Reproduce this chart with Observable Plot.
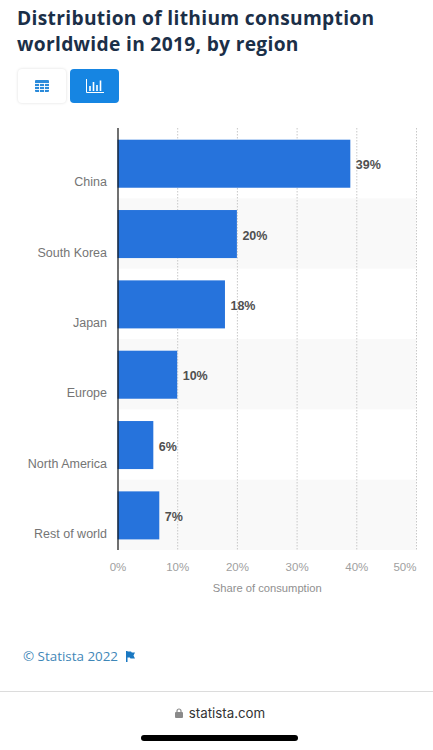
<!DOCTYPE html>
<html><head><meta charset="utf-8">
<script src="https://cdn.jsdelivr.net/npm/d3@7"></script>
<script src="https://cdn.jsdelivr.net/npm/@observablehq/plot@0.6"></script>
<style>
html,body{margin:0;padding:0;background:#fff;width:433px;height:750px;overflow:hidden}
#page{position:relative;width:433px;height:750px}
#page>*{position:absolute}
h1{margin:0;left:17px;top:5px;width:410px;font:700 19.2px/25.5px "Open Sans",sans-serif;color:#1b2f48;letter-spacing:.32px}
.btn{top:69px;height:34px;border-radius:4px;box-sizing:border-box;display:flex;align-items:center;justify-content:center}
#chart{left:0;top:120px}
#chart svg{display:block}
#credit{left:23px;top:646px;font:400 13.4px/20px "Open Sans",sans-serif;color:#3f87b8;display:flex;align-items:center;gap:8px}
#rule{left:0;top:691px;width:433px;height:1px;background:#dcdcdc}
#url{left:3.5px;width:433px;top:703px;text-align:center;font:400 13.3px/20px Inter,"Open Sans",sans-serif;color:#333;display:flex;justify-content:center;align-items:center;gap:6px}
#pill{left:141px;top:735px;width:157px;height:6px;border-radius:3px;background:#000}
</style></head><body>
<div id="page">
<h1>Distribution of lithium consumption worldwide in 2019, by region</h1>
<div class="btn" style="left:18px;width:48px;background:#fff;box-shadow:0 0 3px rgba(0,0,0,.14)">
<svg width="14" height="12" viewBox="0 0 14 12"><rect width="14" height="12" rx="1" fill="#2a8ada"/><path d="M0 3.500H14M0 6.500H14M0 9.500H14M4.500 3V12M9.500 3V12" stroke="#fff" stroke-width=".9"/></svg></div>
<div class="btn" style="left:70px;width:49px;background:#1685e2">
<svg width="18" height="14" viewBox="0 0 18 14" fill="none" stroke="#fff"><path d="M.5 0V13.500H18" stroke-width="1"/><path d="M4 12V7M7.500 12V3M11 12V6M14.500 12V1.500" stroke-width="1.600"/></svg></div>
<div id="chart"></div>
<div id="credit"><span>© Statista 2022</span><svg width="9" height="11" viewBox="0 0 9 11"><path d="M0 0H1.500V11H0ZM1.500 .5H5L5.800 1.500H9L7.500 4.500L9 7.500H4.500L3.800 6.500H1.500Z" fill="#1a78c2"/></svg></div>
<div id="rule"></div>
<div id="url"><svg width="8" height="10" viewBox="0 0 8 10"><path d="M2 4.500V3A2 2 0 0 1 6 3V4.500" fill="none" stroke="#8a8a8a" stroke-width="1.200"/><rect y="4" width="8" height="6" rx="1" fill="#8a8a8a"/></svg><span>statista.com</span></div>
<div id="pill"></div>
</div>
<script>
const regions = ["China", "South Korea", "Japan", "Europe", "North America", "Rest of world"];
const shares = [39, 20, 18, 10, 6, 7];
const stripedRegions = ["South Korea", "Europe", "Rest of world"];
const gridTicks = [10, 20, 30, 40, 50];
const centeredTicks = [0, 10, 20, 30, 40];
const lastTick = [50];
const axisMax = 50;
const rows = regions.map((region, i) => ({region, share: shares[i]}));
const font = "'Liberation Sans', Arial, sans-serif";

const chart = Plot.plot({
  width: 433, height: 480,
  marginTop: 8, marginBottom: 50, marginLeft: 117.5, marginRight: 17,
  style: {fontFamily: font, background: "transparent"},
  x: {domain: [0, axisMax], label: null},
  y: {domain: regions, padding: 0, round: false, label: null},
  marks: [
    Plot.barX(stripedRegions, {x1: 0, x2: axisMax, y: d => d, fill: "#f9f9f9"}),
    Plot.ruleX(gridTicks, {stroke: "#c8c8c8", strokeDasharray: "1.500,1.500", strokeWidth: 1}),
    Plot.barX(rows, {x: "share", y: "region", fill: "#2673dc", insetTop: 11.700, insetBottom: 10.600}),
    Plot.ruleX([0], {stroke: "#111", strokeWidth: 1.200}),
    Plot.text(rows, {x: "share", y: "region", text: d => d.share + "%", dx: 5, dy: 1.500, textAnchor: "start", fontWeight: 700, fontSize: 12.500, fill: "#505050"}),
    Plot.axisY({tickSize: 0, tickPadding: 11, dy: 18.500, fontSize: 12.500, color: "#757575", label: null}),
    Plot.axisX(centeredTicks, {tickSize: 0, tickPadding: 12.500, tickFormat: d => d + "%", fontSize: 11.500, color: "#a0a0a0", label: null}),
    Plot.axisX(lastTick, {tickSize: 0, tickPadding: 12.500, tickFormat: d => d + "%", textAnchor: "end", fontSize: 11.500, color: "#a0a0a0", label: null}),
    Plot.text(["Share of consumption"], {frameAnchor: "bottom", dy: 41, dx: 0, fontSize: 11.200, fill: "#8f8f8f"})
  ]
});
document.getElementById("chart").append(chart);
</script>
</body></html>
